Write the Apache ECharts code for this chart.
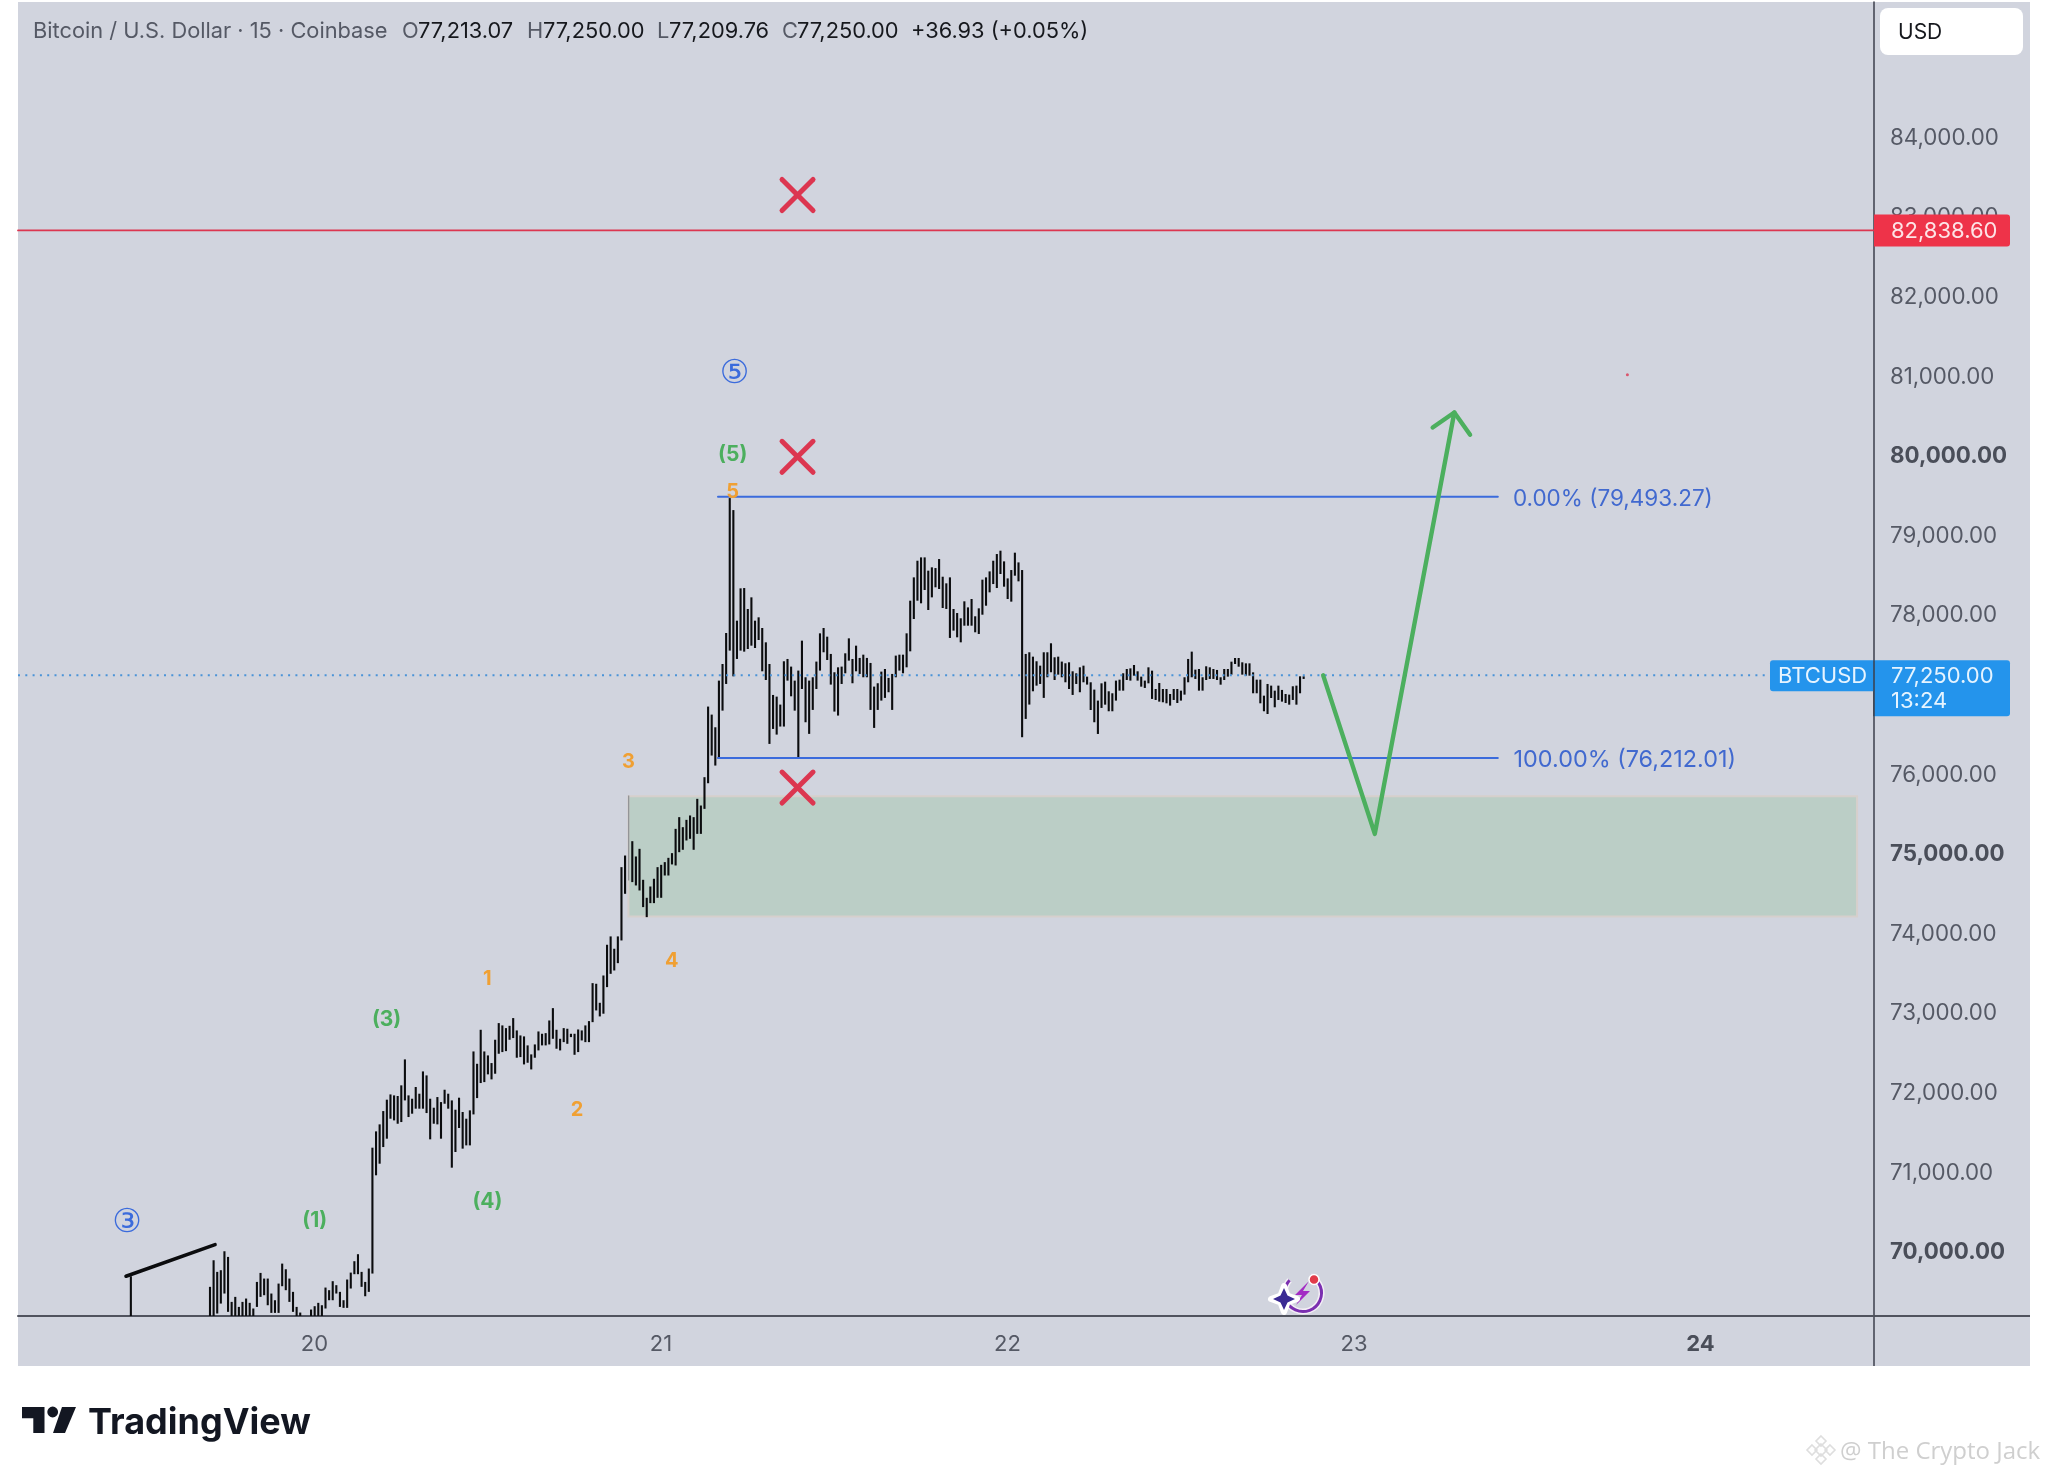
<!DOCTYPE html>
<html>
<head>
<meta charset="utf-8">
<style>html,body{margin:0;padding:0;background:#fff}#c{width:2048px;height:1475px}</style>
<script src="https://cdn.jsdelivr.net/npm/echarts@6/dist/echarts.min.js"></script>
</head>
<body>
<div id="c"></div>
<script>
// ---- tick labels
const dayTicks = [20, 21, 22, 23, 24];
const priceTicks = [70000, 71000, 72000, 73000, 74000, 75000, 76000, 77000, 78000, 79000, 80000, 81000, 82000, 83000, 84000];
const boldPriceTicks = [70000, 75000, 80000];
const boldDayTicks = [24];

// ---- 15-minute bars (first bar opens at firstBarDay)
const firstBarDay = 19.6984;
const barsPerDay = 96;
const barHigh = [69569,69903,69757,69778,70016,69945,69380,69443,69317,69380,69422,69368,69297,69631,69744,69673,69673,69485,69401,69610,69861,69790,69673,69506,69317,69246,69150,69120,69284,69326,69368,69338,69560,69527,69640,69590,69506,69401,69661,69748,69891,69979,69757,69631,69799,
71317,71522,71610,71777,71920,71986,71974,71966,72100,72426,71974,71932,72079,71995,72275,72225,71932,71819,71953,71890,72045,71995,71911,71794,71945,71765,71681,71786,72526,72371,72798,72526,72476,72380,72673,72882,72853,72819,72848,72945,72790,72727,72715,72602,72489,72614,72777,72748,72756,72915,73070,72798,72685,72819,72811,72748,72748,72802,72790,72853,72907,73384,73376,73137,73480,73866,73971,73816,73971,
74841,74987,75740,75167,74975,75071,74682,74456,74598,74695,74841,74870,74904,74958,75017,75322,75469,75343,75435,75490,75469,75699,75615,75971,76858,76757,76598,77184,77393,77782,79477,79326,77937,78343,78347,78084,78230,77937,77979,77845,77665,77393,77004,76983,76883,77427,77456,77360,77184,77310,77686,77226,77184,77226,77423,77778,77845,77736,77519,77289,77351,77360,77527,77715,77456,77623,77469,77510,77469,77406,77109,77151,77297,77330,77218,77268,77498,77510,77510,77778,78188,78481,78690,78732,78732,78565,78607,78598,78711,78489,78406,78481,78084,78033,77967,78180,78104,78209,77992,78092,78452,78481,78556,78690,78774,78816,78682,78468,78573,78791,78669,78573,77519,77540,77485,77427,77372,77540,77540,77653,77477,77485,77423,77402,77414,77301,77276,77351,77372,77234,
77163,77071,76933,77150,77171,77050,77025,77184,77196,77276,77330,77338,77380,77301,77234,77184,77351,77309,77079,77154,77079,77079,77016,77079,77079,77058,77226,77456,77548,77322,77330,77226,77364,77351,77330,77318,77226,77330,77330,77422,77468,77468,77414,77401,77401,77288,77196,77196,76995,77142,77121,77058,77121,77067,77016,77008,77113,77121,77238,77238];
const barLow = [69000,69000,69234,69359,69485,69255,69100,69100,69100,69100,69150,69150,69100,69317,69443,69464,69338,69242,69242,69242,69577,69527,69380,69255,69150,69100,69000,69000,69100,69100,69150,69100,69297,69401,69401,69485,69317,69305,69305,69548,69728,69728,69569,69451,69506,
69736,70970,71116,71325,71430,71681,71660,71618,71639,71911,71702,71744,71807,71807,71807,71752,71422,71618,71610,71430,71869,71807,71066,71263,71564,71305,71346,71346,71735,71940,72129,72141,72238,72175,72246,72497,72518,72530,72673,72694,72447,72455,72363,72384,72300,72447,72539,72602,72602,72614,72685,72560,72539,72643,72622,72706,72484,72518,72664,72643,72643,72894,73041,72966,73000,73334,73501,73543,73635,
73920,74506,74674,74653,74611,74548,74339,74213,74389,74389,74456,74456,74736,74736,74875,74862,75029,75059,75176,75197,75059,75259,75259,75573,75895,76243,76117,76201,76807,77142,77561,77238,77456,77561,77548,77581,77623,77594,77694,77301,77192,76389,76577,76506,76607,76607,77184,76987,76807,76201,77079,76661,76515,76816,77079,77310,77540,77443,77134,76795,76745,77142,77276,77435,77151,77301,77268,77226,77226,76816,76590,76816,76933,76967,77038,76816,77226,77310,77276,77351,77552,77958,78188,78155,78322,78071,78230,78356,78335,78096,78084,77720,77812,77728,77665,77874,77874,77874,77791,77770,78012,78125,78293,78397,78347,78523,78364,78209,78176,78502,78431,76473,76703,76883,77050,77121,77142,76967,77226,77289,77192,77259,77226,77163,77079,77004,77142,77038,77163,77134,
76815,76661,76514,76841,76882,76799,76799,76933,77058,77058,77192,77184,77246,77184,77108,77092,77150,76954,76941,76920,76912,76899,76870,76941,76903,76933,77008,77163,77226,77205,77058,77058,77192,77205,77205,77192,77133,77192,77234,77259,77393,77359,77259,77246,77246,77025,77025,76899,76799,76765,76966,76849,76941,76920,76903,76882,76941,76882,77025,77205];
const faintBarIndex = 116;           // the pale bar that marks wave 3's top
const isolatedBarDay = 19.470, isolatedBarHigh = 69702, isolatedBarLow = 69000;

// ---- drawn levels and shapes
const currentPrice = 77250;
const resistancePrice = 82838.60;
const fibPrices = [79493.27, 76212.01];
const fibLabels = ['0.00% (79,493.27)', '100.00% (76,212.01)'];
const fibDays = [21.1645, 23.415];
const fibLabelDays = [23.4585, 23.4605];
const zoneDays = [20.906, 24.4517];
const zonePrices = [74222, 75732];
const slopeDays = [19.456, 19.713];
const slopePrices = [69702, 70100];
const arrowDays = [22.911, 23.060, 23.2895];
const arrowPrices = [77250, 75259, 80552];
const arrowHeadDays = [23.227, 23.2895, 23.335];
const arrowHeadPrices = [80363, 80552, 80272];
const crossDays = [21.394, 21.394, 21.394];
const crossPrices = [83284, 79995, 75841];
const dotDay = 23.789, dotPrice = 81025;

// ---- wave counts
const blueWaveDays = [19.459, 21.212];
const blueWavePrices = [70393, 81050];
const blueWaveTexts = ['③', '⑤'];
const greenWaveDays = [20.0006, 20.208, 20.499, 21.207];
const greenWavePrices = [70418, 72945, 70656, 80045];
const greenWaveTexts = ['(1)', '(3)', '(4)', '(5)'];
const orangeWaveDays = [20.499, 20.758, 20.906, 21.031, 21.207];
const orangeWavePrices = [73459, 71815, 76179, 73681, 79569];
const orangeWaveTexts = ['1', '2', '3', '4', '5'];

// ---- header
const headerTitle = 'Bitcoin / U.S. Dollar · 15 · Coinbase';
const ohlcKeys = ['O', 'H', 'L', 'C'];
const ohlcValues = ['77,213.07', '77,250.00', '77,209.76', '77,250.00'];
const changeText = '+36.93 (+0.05%)';

const FONT = 'Inter';
const PANEL = '#d1d4de', GREY = '#555965', BLUE = '#3b6bdc', BLUETEXT = '#4169cf', GREEN = '#4caf5e', ORANGE = '#f0a033', RED = '#dc3650', TAGRED = '#ee3349', TAGBLUE = '#2494ec';

const fmtPrice = v => v.toLocaleString('en-US', {minimumFractionDigits: 2, maximumFractionDigits: 2});
const chart = echarts.init(document.getElementById('c'), null, {width: 2048, height: 1475, renderer: 'canvas'});

const pairs = (xs, ys) => xs.map((x, i) => [x, ys[i]]);
const plainLine = (data, color, width, extra) => ({
  type: 'line', data, symbol: 'none', silent: true, animation: false, z: 4,
  lineStyle: Object.assign({color, width, cap: 'round', join: 'round'}, extra || {})
});

function textSeries(days, prices, texts, color, font, align, dy) {
  return {
    type: 'custom', silent: true, animation: false, z: 6, clip: false,
    data: days.map((d, i) => [d, prices[i]]),
    encode: {x: 0, y: 1},
    renderItem: (p, api) => {
      const c = api.coord([api.value(0), api.value(1)]);
      const f = Array.isArray(font) ? font[p.dataIndex] : font;
      return {type: 'text', x: c[0], y: c[1] + dy, style: {text: texts[p.dataIndex], fill: color, font: f, align, verticalAlign: 'middle'}};
    }
  };
}

const series = [
  // demand zone
  {
    type: 'custom', silent: true, animation: false, z: 1,
    data: [[zoneDays[0], zonePrices[1], zoneDays[1], zonePrices[0]]],
    encode: {x: [0, 2], y: [1, 3]},
    renderItem: (p, api) => {
      const a = api.coord([api.value(0), api.value(1)]), b = api.coord([api.value(2), api.value(3)]);
      return {type: 'rect', shape: {x: a[0], y: a[1], width: b[0] - a[0], height: b[1] - a[1]},
        style: {fill: '#bbcec6', stroke: '#d6cfcc', lineWidth: 2}};
    }
  },
  // current price dotted line
  plainLine(pairs([19.1443, 24.5007], [currentPrice, currentPrice]), '#4a93d8', 2, {type: [2, 5.3], cap: 'butt'}),
  // resistance level
  plainLine(pairs([19.1443, 24.5007], [resistancePrice, resistancePrice]), RED, 1.8),
  // bars
  {
    type: 'custom', silent: true, animation: false, z: 3, clip: true,
    data: barHigh.map((h, i) => [firstBarDay + i / barsPerDay, h, barLow[i]]).concat([[isolatedBarDay, isolatedBarHigh, isolatedBarLow]]),
    encode: {x: 0, y: [1, 2]},
    renderItem: (p, api) => {
      const hi = api.coord([api.value(0), api.value(1)]), lo = api.coord([api.value(0), api.value(2)]);
      const faint = p.dataIndex === faintBarIndex;
      return {type: 'line', shape: {x1: hi[0], y1: hi[1], x2: lo[0], y2: lo[1]},
        style: {stroke: faint ? '#8d8f92' : '#0b0c0e', lineWidth: faint ? 1.2 : 2.1}};
    }
  },
  plainLine(pairs(slopeDays, slopePrices), '#0b0c0e', 3.6),
  plainLine(pairs(fibDays, [fibPrices[0], fibPrices[0]]), BLUE, 2),
  plainLine(pairs(fibDays, [fibPrices[1], fibPrices[1]]), BLUE, 2),
  plainLine(pairs(arrowDays, arrowPrices), GREEN, 4.4),
  plainLine(pairs(arrowHeadDays, arrowHeadPrices), GREEN, 4.4),
  // crosses
  {
    type: 'custom', silent: true, animation: false, z: 5,
    data: pairs(crossDays, crossPrices),
    encode: {x: 0, y: 1},
    renderItem: (p, api) => {
      const c = api.coord([api.value(0), api.value(1)]), r = 15.5;
      const st = {stroke: RED, lineWidth: 5, lineCap: 'round'};
      return {type: 'group', children: [
        {type: 'line', shape: {x1: c[0] - r, y1: c[1] - r, x2: c[0] + r, y2: c[1] + r}, style: st},
        {type: 'line', shape: {x1: c[0] - r, y1: c[1] + r, x2: c[0] + r, y2: c[1] - r}, style: st}
      ]};
    }
  },
  // stray dot
  {type: 'scatter', silent: true, animation: false, data: [[dotDay, dotPrice]], symbolSize: 3, itemStyle: {color: RED}, z: 5},
  textSeries(fibLabelDays, fibPrices, fibLabels, BLUETEXT, ['22.5px ' + FONT, '23.4px ' + FONT], 'left', 2),
  textSeries(blueWaveDays, blueWavePrices, blueWaveTexts, BLUE, '33px "DejaVu Sans"', 'center', 2),
  textSeries(greenWaveDays, greenWavePrices, greenWaveTexts, GREEN, 'bold 21px ' + FONT, 'center', 1.5),
  textSeries(orangeWaveDays, orangeWavePrices, orangeWaveTexts, ORANGE, 'bold 20px ' + FONT, 'center', 1.5),
  // price tags on the axis
  {
    type: 'custom', silent: true, animation: false, z: 20, clip: false,
    data: [[24.5007, resistancePrice], [24.5007, currentPrice]],
    encode: {x: 0, y: 1},
    renderItem: (p, api) => {
      const c = api.coord([api.value(0), api.value(1)]), x = c[0], y = c[1];
      const f = '22px ' + FONT;
      if (p.dataIndex === 0) {
        return {type: 'group', children: [
          {type: 'rect', shape: {x, y: y - 16, width: 136, height: 32, r: [0, 3, 3, 0]}, style: {fill: TAGRED}},
          {type: 'text', x: x + 17, y: y + 1, style: {text: fmtPrice(resistancePrice), fill: '#fde3e6', font: f, verticalAlign: 'middle'}}
        ]};
      }
      return {type: 'group', children: [
        {type: 'rect', shape: {x: x - 104, y: y - 15, width: 104, height: 31, r: [3, 0, 0, 3]}, style: {fill: TAGBLUE}},
        {type: 'rect', shape: {x, y: y - 15, width: 136, height: 56, r: [0, 3, 3, 0]}, style: {fill: TAGBLUE}},
        {type: 'line', shape: {x1: x, y1: y - 15, x2: x, y2: y + 41}, style: {stroke: '#3b3f4b', lineWidth: 1.5}},
        {type: 'text', x: x - 96, y: y + 1.5, style: {text: 'BTCUSD', fill: '#e6f4ff', font: f, verticalAlign: 'middle'}},
        {type: 'text', x: x + 17, y: y + 1, style: {text: fmtPrice(currentPrice), fill: '#e6f4ff', font: f, verticalAlign: 'middle'}},
        {type: 'text', x: x + 17, y: y + 26, style: {text: '13:24', fill: '#e6f4ff', font: f, verticalAlign: 'middle'}}
      ]};
    }
  }
];

// ---- fixed page furniture
const hdrY = 31.5;
const hdrFont = '21.8px ' + FONT;
const hdr = [];
hdr.push({type: 'text', x: 33, y: hdrY, style: {text: headerTitle, fill: GREY, font: hdrFont, verticalAlign: 'middle'}});
const keyX = [402, 527, 657, 782];
const keyGap = [16, 16, 12, 15];
ohlcKeys.forEach((k, i) => {
  hdr.push({type: 'text', x: keyX[i], y: hdrY, style: {text: k, fill: GREY, font: hdrFont, verticalAlign: 'middle'}});
  hdr.push({type: 'text', x: keyX[i] + keyGap[i], y: hdrY, style: {text: ohlcValues[i], fill: '#16181d', font: hdrFont, verticalAlign: 'middle'}});
});
hdr.push({type: 'text', x: 911, y: hdrY, style: {text: changeText, fill: '#16181d', font: hdrFont, verticalAlign: 'middle'}});

const diamond = (cx, cy, r) => ({type: 'polygon', silent: true, shape: {points: [[cx, cy - r], [cx + r, cy], [cx, cy + r], [cx - r, cy]]}, style: {fill: 'none', stroke: '#dedede', lineWidth: 1.6}});

const graphic = [
  {type: 'rect', z: -10, silent: true, shape: {x: 18, y: 2, width: 2012, height: 1364}, style: {fill: PANEL}},
  {type: 'line', z: -1, silent: true, shape: {x1: 1874, y1: 1316, x2: 2030, y2: 1316}, style: {stroke: '#50535e', lineWidth: 2}},
  {type: 'line', z: -1, silent: true, shape: {x1: 1874, y1: 1316, x2: 1874, y2: 1366}, style: {stroke: '#3b3f4b', lineWidth: 1.5}},
  {type: 'rect', z: 30, silent: true, shape: {x: 1880, y: 8, width: 143, height: 47, r: 8}, style: {fill: '#ffffff'}},
  {type: 'text', z: 31, silent: true, x: 1898, y: 33, style: {text: 'USD', fill: '#16181d', font: '21px ' + FONT, verticalAlign: 'middle'}},
  // TradingView lock-up
  {type: 'polygon', silent: true, shape: {points: [[22, 1407], [44.5, 1407], [44.5, 1433], [33.3, 1433], [33.3, 1418.3], [22, 1418.3]]}, style: {fill: '#131722'}},
  {type: 'circle', silent: true, shape: {cx: 52.7, cy: 1412, r: 5.4}, style: {fill: '#131722'}},
  {type: 'polygon', silent: true, shape: {points: [[62, 1407], [76, 1407], [65, 1433], [53, 1433]]}, style: {fill: '#131722'}},
  {type: 'text', silent: true, x: 88, y: 1423, style: {text: 'TradingView', fill: '#131722', font: 'bold 36px ' + FONT, verticalAlign: 'middle'}},
  // watermark
  {type: 'text', silent: true, x: 1840, y: 1452, style: {text: '@ The Crypto Jack', fill: '#cfcfcf', font: '24px "Open Sans"', verticalAlign: 'middle'}},
  diamond(1821, 1450, 6), diamond(1821, 1441, 5), diamond(1812, 1450, 5), diamond(1830, 1450, 5), diamond(1821, 1459, 5),
  // badge
  {type: 'arc', z: 30, silent: true, shape: {cx: 1303, cy: 1293, r: 18.5, startAngle: -1.15, endAngle: 3.9}, style: {stroke: '#f3eef6', lineWidth: 6, fill: 'none'}},
  {type: 'arc', z: 31, silent: true, shape: {cx: 1303, cy: 1293, r: 18.5, startAngle: -1.15, endAngle: 3.9}, style: {stroke: '#7b2fb0', lineWidth: 3, fill: 'none'}},
  {type: 'polygon', z: 31, silent: true, shape: {points: [[1309, 1281], [1295, 1295], [1302, 1295], [1296, 1305], [1310, 1291], [1303, 1291]]}, style: {fill: '#a32cc4'}},
  {type: 'polygon', z: 32, silent: true, shape: {points: [[1284, 1286], [1287.5, 1295.5], [1297, 1299], [1287.5, 1302.5], [1284, 1312], [1280.5, 1302.5], [1271, 1299], [1280.5, 1295.5]]}, style: {fill: '#ffffff', stroke: '#ffffff', lineWidth: 6, lineJoin: 'round'}},
  {type: 'polygon', z: 33, silent: true, shape: {points: [[1284, 1288], [1287.5, 1295.5], [1295, 1299], [1287.5, 1302.5], [1284, 1310], [1280.5, 1302.5], [1273, 1299], [1280.5, 1295.5]]}, style: {fill: '#3a2a94'}},
  {type: 'circle', z: 32, silent: true, shape: {cx: 1314, cy: 1279.5, r: 5}, style: {fill: '#e23b4a', stroke: '#ffffff', lineWidth: 1.5}}
].concat(hdr.map(e => Object.assign(e, {z: 30, silent: true})));

chart.setOption({
  animation: false,
  backgroundColor: '#ffffff',
  grid: {left: 18, right: 174, top: 2, bottom: 159, containLabel: false},
  xAxis: {
    type: 'value', min: 19.1443, max: 24.5007, scale: true,
    splitLine: {show: false}, axisTick: {show: false},
    axisLine: {show: true, onZero: false, lineStyle: {color: '#50535e', width: 2}},
    axisLabel: {
      margin: 17, hideOverlap: false, customValues: dayTicks,
      formatter: v => boldDayTicks.includes(v) ? '{b|' + v + '}' : '{n|' + v + '}',
      rich: {
        n: {fontFamily: FONT, fontSize: 22, color: GREY},
        b: {fontFamily: FONT, fontSize: 22, fontWeight: 'bold', color: '#4a4e59'}
      }
    }
  },
  yAxis: {
    type: 'value', position: 'right', min: 69202.8, max: 85708.3, scale: true,
    splitLine: {show: false}, axisTick: {show: false},
    axisLine: {show: true, onZero: false, lineStyle: {color: '#3b3f4b', width: 1.5}},
    axisLabel: {
      margin: 16, customValues: priceTicks, hideOverlap: false,
      formatter: v => boldPriceTicks.includes(v) ? '{b|' + fmtPrice(v) + '}' : '{n|' + fmtPrice(v) + '}',
      rich: {
        n: {fontFamily: FONT, fontSize: 22.3, color: GREY},
        b: {fontFamily: FONT, fontSize: 22.3, fontWeight: 'bold', color: '#4a4e59'}
      }
    }
  },
  series,
  graphic
});
</script>
</body>
</html>
